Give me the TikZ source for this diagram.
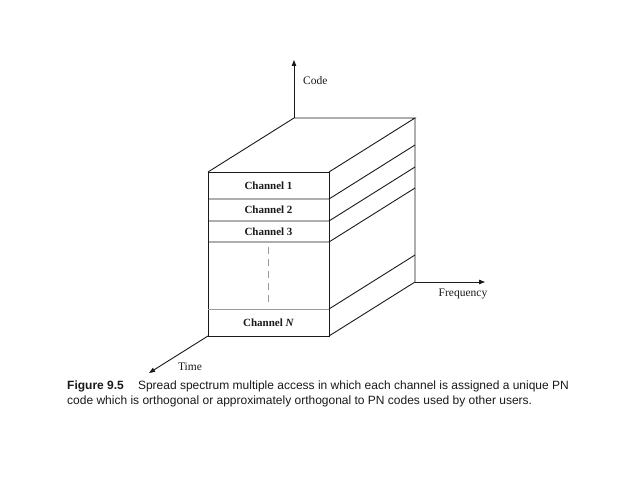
\documentclass[tikz,border=0pt]{standalone}
\usepackage{fontspec}
\setmainfont{Liberation Serif}
\setsansfont{Liberation Sans}
\usetikzlibrary{arrows.meta, positioning}
\definecolor{Ink}{HTML}{1A1A1A}
\definecolor{Faint}{HTML}{9A9A9A}
\tikzset{
    edge/.style={line width=0.9pt, color=Ink},
    faintedge/.style={line width=0.9pt, color=Faint},
    axis/.style={-{Triangle[length=6pt, width=4.5pt]}, line width=0.9pt, color=Ink},
    chanlabel/.style={font=\fontsize{11}{13}\selectfont\bfseries, text=Ink, inner sep=0pt},
    axislabel/.style={font=\fontsize{11.5}{13}\selectfont, text=Ink, inner sep=0pt},
    captext/.style={font=\sffamily\fontsize{12}{14}\selectfont, text=Ink, inner sep=0pt, anchor=base west},
}
\begin{document}
\begin{tikzpicture}[x=1pt, y=1pt]
    \useasboundingbox (0,0) rectangle (638,479);
    \fill[white] (0,0) rectangle (638,479);

    % Ecken des Blocks
    \coordinate (ftl) at (208,307);
    \coordinate (ftr) at (329,307);
    \coordinate (fbl) at (208,143);
    \coordinate (fbr) at (329,143);
    \coordinate (btl) at (294,361);
    \coordinate (btr) at (415,361);
    \coordinate (bbr) at (415,197);

    % Achsen
    \coordinate (codetip) at (294,419);
    \coordinate (freqtip) at (485,197);
    \coordinate (timetip) at (149,106);
    \draw[axis] (btl) -- (codetip);
    \draw[axis] (bbr) -- (freqtip);
    \draw[axis] (fbl) -- (timetip);

    % Vorderseite, Oberseite, rechte Seite
    \draw[edge] (ftl) rectangle (fbr);
    \draw[edge] (ftl) -- (btl) -- (btr) -- (ftr);
    \draw[edge] (btr) -- (bbr) -- (fbr);

    % Kanalgrenzen
    \foreach \y in {280,258,237} {
        \draw[edge] (208,\y) -- (329,\y) -- (415,\y+54);
    }
    \draw[faintedge] (208,170) -- (329,170);
    \draw[edge] (329,170) -- (415,224);
    \draw[faintedge, dash pattern=on 7pt off 5pt] (268,232) -- (268,177);

    % Beschriftungen
    \node[chanlabel] (ch1) at (268.5,293.5) {Channel 1};
    \node[chanlabel] (ch2) at (268.5,269) {Channel 2};
    \node[chanlabel] (ch3) at (268.5,247.5) {Channel 3};
    \node[chanlabel] (chN) at (268.5,156.5) {Channel \textit{N}};
    \node[axislabel, anchor=west] (code) at (303,398) {Code};
    \node[axislabel] (freq) at (463,185) {Frequency};
    \node[axislabel] (time) at (190,112) {Time};

    % Bildunterschrift
    \node[captext] (cap1) at (67,89) {\textbf{Figure 9.5}\hspace{0.9em} Spread spectrum multiple access in which each channel is assigned a unique PN};
    \node[captext] (cap2) at (67,74) {code which is orthogonal or approximately orthogonal to PN codes used by other users.};
\end{tikzpicture}
\end{document}
